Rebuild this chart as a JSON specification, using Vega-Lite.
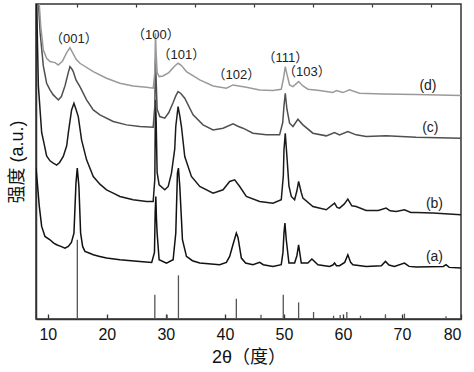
{
  "$schema": "https://vega.github.io/schema/vega-lite/v6.json",
  "autosize": "none",
  "width": 425,
  "height": 315,
  "padding": {"left": 36, "top": 4, "right": 13, "bottom": 53},
  "background": "white",
  "config": {
    "view": {"stroke": "#333", "strokeWidth": 1.5},
    "font": "Liberation Sans, Noto Sans CJK SC",
    "axis": {"grid": false, "domainColor": "#333", "domainWidth": 1.5, "tickColor": "#333", "labelColor": "#111", "titleColor": "#111", "labelFont": "Liberation Sans", "titleFont": "Liberation Sans, Noto Sans CJK SC", "titleFontWeight": "normal"}
  },
  "datasets": {
    "sticks": [
      {"t": 15.0, "i": 238}, {"t": 28.13, "i": 73}, {"t": 30.21, "i": 13}, {"t": 32.13, "i": 131},
      {"t": 41.94, "i": 61}, {"t": 46.12, "i": 13}, {"t": 49.89, "i": 73}, {"t": 52.49, "i": 50},
      {"t": 55.02, "i": 21}, {"t": 58.41, "i": 10}, {"t": 59.53, "i": 12}, {"t": 60.66, "i": 21},
      {"t": 62.97, "i": 10}, {"t": 67.2, "i": 14}, {"t": 70.42, "i": 16}, {"t": 77.46, "i": 8}
    ],
    "curves": [
      {"s":"a","t":8.00,"i":453},{"s":"a","t":8.23,"i":408},{"s":"a","t":8.56,"i":338},{"s":"a","t":8.96,"i":278},{"s":"a","t":9.52,"i":248},{"s":"a","t":10.37,"i":238},{"s":"a","t":11.0,"i":228},{"s":"a","t":11.5,"i":223},{"s":"a","t":12.2,"i":218},{"s":"a","t":12.91,"i":213},{"s":"a","t":13.47,"i":218},{"s":"a","t":14.0,"i":230},{"s":"a","t":14.43,"i":258},{"s":"a","t":14.77,"i":408},{"s":"a","t":14.99,"i":453},{"s":"a","t":15.16,"i":420},{"s":"a","t":15.27,"i":398},{"s":"a","t":15.56,"i":258},{"s":"a","t":15.9,"i":218},{"s":"a","t":16.29,"i":203},{"s":"a","t":17.0,"i":198},{"s":"a","t":17.7,"i":193},{"s":"a","t":18.8,"i":188},{"s":"a","t":19.95,"i":183},{"s":"a","t":22.21,"i":178},{"s":"a","t":25.59,"i":173},{"s":"a","t":27.6,"i":170},{"s":"a","t":28.07,"i":200},{"s":"a","t":28.19,"i":318},{"s":"a","t":28.3,"i":368},{"s":"a","t":28.41,"i":300},{"s":"a","t":28.52,"i":258},{"s":"a","t":28.86,"i":178},{"s":"a","t":30.1,"i":168},{"s":"a","t":31.23,"i":178},{"s":"a","t":31.68,"i":258},{"s":"a","t":31.96,"i":438},{"s":"a","t":32.13,"i":453},{"s":"a","t":32.36,"i":398},{"s":"a","t":32.64,"i":300},{"s":"a","t":32.81,"i":238},{"s":"a","t":33.49,"i":188},{"s":"a","t":34.5,"i":175},{"s":"a","t":35.74,"i":168},{"s":"a","t":39.12,"i":163},{"s":"a","t":40.25,"i":170},{"s":"a","t":40.81,"i":188},{"s":"a","t":41.4,"i":225},{"s":"a","t":41.94,"i":258},{"s":"a","t":42.22,"i":245},{"s":"a","t":42.79,"i":183},{"s":"a","t":43.5,"i":168},{"s":"a","t":44.76,"i":163},{"s":"a","t":45.89,"i":170},{"s":"a","t":46.5,"i":163},{"s":"a","t":48.14,"i":158},{"s":"a","t":49.55,"i":163},{"s":"a","t":49.84,"i":200},{"s":"a","t":50.01,"i":258},{"s":"a","t":50.17,"i":288},{"s":"a","t":50.4,"i":238},{"s":"a","t":50.85,"i":168},{"s":"a","t":51.81,"i":168},{"s":"a","t":52.2,"i":190},{"s":"a","t":52.49,"i":223},{"s":"a","t":52.94,"i":168},{"s":"a","t":54.06,"i":168},{"s":"a","t":54.74,"i":180},{"s":"a","t":55.76,"i":163},{"s":"a","t":57.73,"i":158},{"s":"a","t":58.29,"i":162},{"s":"a","t":58.58,"i":168},{"s":"a","t":58.9,"i":160},{"s":"a","t":59.42,"i":160},{"s":"a","t":60.3,"i":170},{"s":"a","t":60.83,"i":193},{"s":"a","t":61.3,"i":170},{"s":"a","t":61.68,"i":163},{"s":"a","t":63.93,"i":158},{"s":"a","t":66.5,"i":160},{"s":"a","t":67.2,"i":173},{"s":"a","t":67.8,"i":162},{"s":"a","t":68.72,"i":158},{"s":"a","t":70.42,"i":168},{"s":"a","t":71.2,"i":158},{"s":"a","t":72.39,"i":156},{"s":"a","t":77.0,"i":158},{"s":"a","t":77.46,"i":163},{"s":"a","t":78.0,"i":155},{"s":"a","t":80.0,"i":153},

      {"s":"b","t":8.05,"i":1000},{"s":"b","t":8.4,"i":700},{"s":"b","t":8.96,"i":560},{"s":"b","t":9.35,"i":528},{"s":"b","t":9.8,"i":490},{"s":"b","t":10.37,"i":475},{"s":"b","t":10.93,"i":468},{"s":"b","t":11.5,"i":462},{"s":"b","t":12.0,"i":470},{"s":"b","t":12.62,"i":488},{"s":"b","t":13.2,"i":520},{"s":"b","t":13.47,"i":558},{"s":"b","t":14.03,"i":628},{"s":"b","t":14.43,"i":648},{"s":"b","t":14.77,"i":630},{"s":"b","t":15.16,"i":608},{"s":"b","t":15.72,"i":538},{"s":"b","t":16.57,"i":478},{"s":"b","t":17.7,"i":428},{"s":"b","t":18.83,"i":405},{"s":"b","t":19.95,"i":388},{"s":"b","t":21.08,"i":378},{"s":"b","t":22.21,"i":368},{"s":"b","t":24.46,"i":358},{"s":"b","t":26.72,"i":353},{"s":"b","t":27.85,"i":353},{"s":"b","t":28.13,"i":420},{"s":"b","t":28.24,"i":658},{"s":"b","t":28.35,"i":600},{"s":"b","t":28.52,"i":440},{"s":"b","t":28.86,"i":403},{"s":"b","t":29.82,"i":388},{"s":"b","t":30.4,"i":398},{"s":"b","t":30.95,"i":438},{"s":"b","t":31.5,"i":510},{"s":"b","t":31.68,"i":578},{"s":"b","t":32.07,"i":638},{"s":"b","t":32.36,"i":610},{"s":"b","t":32.64,"i":578},{"s":"b","t":33.2,"i":488},{"s":"b","t":34.33,"i":428},{"s":"b","t":35.74,"i":398},{"s":"b","t":38.0,"i":378},{"s":"b","t":39.69,"i":388},{"s":"b","t":40.81,"i":413},{"s":"b","t":41.66,"i":418},{"s":"b","t":42.51,"i":398},{"s":"b","t":43.63,"i":368},{"s":"b","t":45.89,"i":353},{"s":"b","t":48.14,"i":348},{"s":"b","t":49.55,"i":358},{"s":"b","t":49.9,"i":430},{"s":"b","t":50.01,"i":508},{"s":"b","t":50.23,"i":558},{"s":"b","t":50.51,"i":488},{"s":"b","t":50.85,"i":400},{"s":"b","t":51.25,"i":368},{"s":"b","t":51.81,"i":358},{"s":"b","t":52.2,"i":385},{"s":"b","t":52.49,"i":413},{"s":"b","t":52.94,"i":380},{"s":"b","t":53.22,"i":363},{"s":"b","t":54.91,"i":338},{"s":"b","t":57.17,"i":328},{"s":"b","t":58.58,"i":348},{"s":"b","t":59.0,"i":335},{"s":"b","t":59.42,"i":333},{"s":"b","t":60.2,"i":345},{"s":"b","t":60.83,"i":360},{"s":"b","t":61.5,"i":340},{"s":"b","t":62.24,"i":338},{"s":"b","t":63.93,"i":326},{"s":"b","t":66.0,"i":326},{"s":"b","t":67.31,"i":333},{"s":"b","t":68.0,"i":325},{"s":"b","t":69.01,"i":323},{"s":"b","t":70.42,"i":328},{"s":"b","t":71.5,"i":320},{"s":"b","t":72.39,"i":320},{"s":"b","t":75.21,"i":318},{"s":"b","t":80.0,"i":313},

      {"s":"c","t":8.25,"i":1000},{"s":"c","t":8.7,"i":860},{"s":"c","t":9.24,"i":760},{"s":"c","t":9.8,"i":708},{"s":"c","t":10.37,"i":688},{"s":"c","t":10.93,"i":673},{"s":"c","t":11.5,"i":663},{"s":"c","t":11.78,"i":658},{"s":"c","t":12.3,"i":668},{"s":"c","t":12.91,"i":700},{"s":"c","t":13.47,"i":740},{"s":"c","t":13.75,"i":758},{"s":"c","t":14.1,"i":750},{"s":"c","t":14.31,"i":743},{"s":"c","t":14.77,"i":718},{"s":"c","t":15.44,"i":698},{"s":"c","t":16.57,"i":658},{"s":"c","t":17.7,"i":628},{"s":"c","t":18.83,"i":613},{"s":"c","t":21.08,"i":593},{"s":"c","t":23.34,"i":583},{"s":"c","t":25.59,"i":578},{"s":"c","t":27.85,"i":576},{"s":"c","t":28.13,"i":640},{"s":"c","t":28.24,"i":783},{"s":"c","t":28.35,"i":720},{"s":"c","t":28.52,"i":630},{"s":"c","t":28.97,"i":608},{"s":"c","t":29.82,"i":603},{"s":"c","t":30.5,"i":620},{"s":"c","t":31.23,"i":650},{"s":"c","t":31.68,"i":670},{"s":"c","t":32.07,"i":683},{"s":"c","t":32.5,"i":678},{"s":"c","t":33.2,"i":663},{"s":"c","t":34.61,"i":613},{"s":"c","t":36.3,"i":583},{"s":"c","t":38.0,"i":568},{"s":"c","t":39.69,"i":573},{"s":"c","t":41.38,"i":586},{"s":"c","t":42.3,"i":578},{"s":"c","t":43.07,"i":573},{"s":"c","t":44.76,"i":558},{"s":"c","t":47.02,"i":553},{"s":"c","t":49.27,"i":553},{"s":"c","t":49.8,"i":590},{"s":"c","t":50.01,"i":640},{"s":"c","t":50.23,"i":678},{"s":"c","t":50.51,"i":630},{"s":"c","t":50.96,"i":588},{"s":"c","t":51.53,"i":578},{"s":"c","t":52.37,"i":600},{"s":"c","t":53.22,"i":583},{"s":"c","t":54.91,"i":558},{"s":"c","t":57.17,"i":550},{"s":"c","t":58.58,"i":560},{"s":"c","t":59.42,"i":553},{"s":"c","t":60.83,"i":563},{"s":"c","t":62.24,"i":553},{"s":"c","t":63.93,"i":548},{"s":"c","t":67.31,"i":550},{"s":"c","t":72.39,"i":546},{"s":"c","t":80.0,"i":543},

      {"s":"d","t":8.35,"i":1000},{"s":"d","t":8.8,"i":880},{"s":"d","t":9.24,"i":808},{"s":"d","t":9.8,"i":783},{"s":"d","t":10.37,"i":773},{"s":"d","t":11.2,"i":770},{"s":"d","t":11.78,"i":763},{"s":"d","t":12.5,"i":775},{"s":"d","t":13.2,"i":800},{"s":"d","t":13.75,"i":815},{"s":"d","t":14.2,"i":800},{"s":"d","t":14.8,"i":780},{"s":"d","t":15.44,"i":768},{"s":"d","t":17.7,"i":743},{"s":"d","t":19.95,"i":723},{"s":"d","t":22.21,"i":708},{"s":"d","t":24.46,"i":700},{"s":"d","t":26.72,"i":696},{"s":"d","t":27.85,"i":693},{"s":"d","t":28.13,"i":740},{"s":"d","t":28.24,"i":858},{"s":"d","t":28.35,"i":800},{"s":"d","t":28.52,"i":740},{"s":"d","t":28.86,"i":728},{"s":"d","t":29.5,"i":730},{"s":"d","t":30.5,"i":740},{"s":"d","t":31.5,"i":760},{"s":"d","t":32.07,"i":768},{"s":"d","t":32.6,"i":762},{"s":"d","t":33.49,"i":743},{"s":"d","t":35.74,"i":718},{"s":"d","t":38.0,"i":700},{"s":"d","t":40.25,"i":693},{"s":"d","t":41.38,"i":703},{"s":"d","t":43.63,"i":696},{"s":"d","t":45.89,"i":688},{"s":"d","t":48.14,"i":686},{"s":"d","t":49.55,"i":690},{"s":"d","t":49.9,"i":720},{"s":"d","t":50.23,"i":758},{"s":"d","t":50.51,"i":735},{"s":"d","t":50.96,"i":703},{"s":"d","t":51.53,"i":698},{"s":"d","t":52.49,"i":713},{"s":"d","t":53.22,"i":700},{"s":"d","t":54.06,"i":690},{"s":"d","t":56.04,"i":686},{"s":"d","t":58.29,"i":680},{"s":"d","t":58.86,"i":686},{"s":"d","t":60.0,"i":680},{"s":"d","t":61.11,"i":688},{"s":"d","t":62.8,"i":678},{"s":"d","t":66.75,"i":676},{"s":"d","t":72.39,"i":674},{"s":"d","t":80.0,"i":671}
    ],
    "hkl": [
      {"t": 14.43, "i": 840, "label": "（001）"},
      {"t": 28.3, "i": 853, "label": "（100）"},
      {"t": 32.64, "i": 793, "label": "（101）"},
      {"t": 41.94, "i": 733, "label": "（102）"},
      {"t": 50.23, "i": 783, "label": "（111）"},
      {"t": 53.9, "i": 741, "label": "（103）"}
    ],
    "series": [
      {"t": 74.4, "i": 700, "label": "(d)"},
      {"t": 74.8, "i": 575, "label": "(c)"},
      {"t": 75.5, "i": 346, "label": "(b)"},
      {"t": 75.5, "i": 185, "label": "(a)"}
    ]
  },
  "resolve": {"axis": {"x": "independent", "y": "independent"}},
  "layer": [
    {
      "data": {"name": "sticks"},
      "mark": {"type": "rule", "color": "#555", "strokeWidth": 1.3},
      "encoding": {
        "x": {"field": "t", "type": "quantitative", "scale": {"domain": [8, 80], "nice": false, "zero": false},
              "axis": {"values": [10, 20, 30, 40, 50, 60, 70, 80], "tickSize": -5, "tickWidth": 1.3, "labelFontSize": 16, "labelPadding": 12, "title": "2θ（度）", "titleFontSize": 18, "titlePadding": 6}},
        "y": {"field": "i", "type": "quantitative", "scale": {"domain": [0, 946], "nice": false, "zero": false},
              "axis": {"ticks": false, "labels": false, "title": "强度 (a.u.)", "titleFontSize": 18, "titlePadding": 10}},
        "y2": {"datum": 0}
      }
    },
    {
      "data": {"name": "curves"},
      "mark": {"type": "line", "clip": true, "strokeWidth": 1.5},
      "encoding": {
        "x": {"field": "t", "type": "quantitative",
              "axis": {"values": [15, 25, 35, 45, 55, 65, 75], "tickSize": -3, "tickWidth": 1.2, "labels": false, "domain": false, "title": null}},
        "y": {"field": "i", "type": "quantitative", "axis": null},
        "color": {"field": "s", "type": "nominal", "legend": null,
                  "scale": {"domain": ["a", "b", "c", "d"], "range": ["#111111", "#1a1a1a", "#4f4f4f", "#9a9a9a"]}}
      }
    },
    {
      "data": {"name": "hkl"},
      "mark": {"type": "text", "fontSize": 13, "fill": "#222", "font": "Liberation Sans, Noto Sans CJK SC"},
      "encoding": {
        "x": {"field": "t", "type": "quantitative", "axis": null},
        "y": {"field": "i", "type": "quantitative", "axis": null},
        "text": {"field": "label"}
      }
    },
    {
      "data": {"name": "series"},
      "mark": {"type": "text", "fontSize": 14, "fill": "#222"},
      "encoding": {
        "x": {"field": "t", "type": "quantitative", "axis": null},
        "y": {"field": "i", "type": "quantitative", "axis": null},
        "text": {"field": "label"}
      }
    }
  ]
}
